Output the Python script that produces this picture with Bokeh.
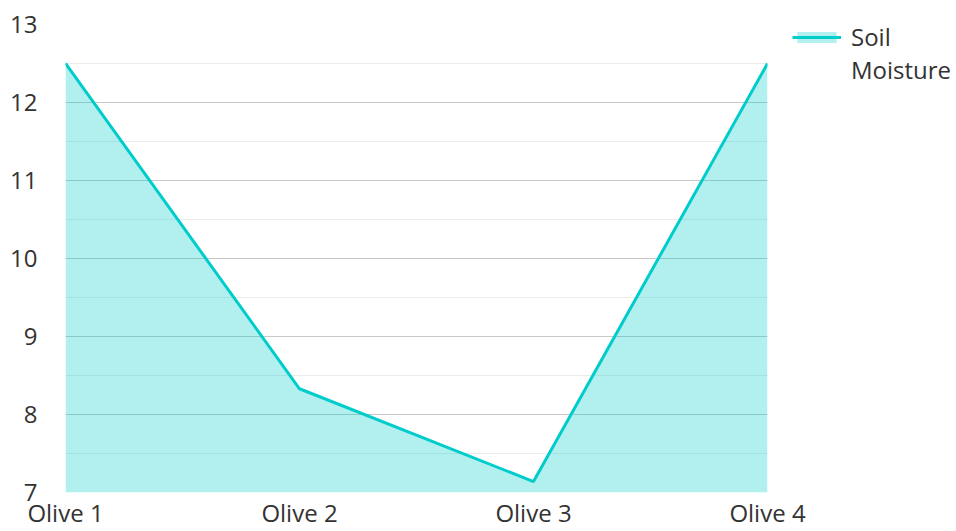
from bokeh.plotting import figure
from bokeh.models import Range1d, FixedTicker, SingleIntervalTicker, Legend, LegendItem
from bokeh.embed import file_html
from bokeh.resources import INLINE

categories = ["Olive 1", "Olive 2", "Olive 3", "Olive 4"]
soil_moisture = [12.5, 8.33, 7.14, 12.5]
y_ticks = [7, 8, 9, 10, 11, 12, 13]
legend_lines = ["Soil", "Moisture"]

xs = list(range(len(categories)))
FONT = "Open Sans"
TEXT = "#333333"
CYAN = "#00cccc"

p = figure(frame_width=702, height=531, output_backend="svg", toolbar_location=None,
           x_range=Range1d(0, len(categories) - 1), y_range=Range1d(y_ticks[0], y_ticks[-1]),
           min_border_left=65, min_border_right=0, min_border_top=24, min_border_bottom=0)
p.outline_line_color = None
p.background_fill_color = "white"
p.border_fill_color = "white"

area = p.varea(x=xs, y1=y_ticks[0], y2=soil_moisture, fill_color=CYAN, fill_alpha=0.3)
line = p.line(x=xs, y=soil_moisture, line_color=CYAN, line_width=3)
blank = p.line(x=[], y=[], line_alpha=0)

p.xaxis.ticker = FixedTicker(ticks=xs)
p.xaxis.major_label_overrides = {i: c for i, c in enumerate(categories)}
p.yaxis.ticker = SingleIntervalTicker(interval=1, num_minor_ticks=2)

for ax in (p.xaxis[0], p.yaxis[0]):
    ax.axis_line_color = None
    ax.major_tick_line_color = None
    ax.minor_tick_line_color = None
    ax.major_tick_out = 0
    ax.major_tick_in = 0
    ax.major_label_text_font = FONT
    ax.major_label_text_font_size = "24px"
    ax.major_label_text_color = TEXT
    ax.major_label_text_line_height = 1.0
p.xaxis.major_label_standoff = 3
p.yaxis.major_label_standoff = 24

p.xgrid.grid_line_color = None
p.ygrid.ticker = p.yaxis[0].ticker
p.ygrid.grid_line_color = "#c8c8c8"
p.ygrid.grid_line_width = 1
p.ygrid.minor_grid_line_color = "#ebebeb"

legend = Legend(items=[LegendItem(label=legend_lines[0], renderers=[area, line]),
                       LegendItem(label=legend_lines[1], renderers=[blank])],
                location=(25, 406), border_line_color=None, background_fill_alpha=0,
                label_text_font=FONT, label_text_font_size="24px", label_text_color=TEXT,
                label_text_line_height=1.0,
                glyph_width=49, glyph_height=14, margin=0, padding=0, spacing=-2,
                label_standoff=10)
p.add_layout(legend, "right")

open("out.html", "w").write(file_html(p, INLINE))
